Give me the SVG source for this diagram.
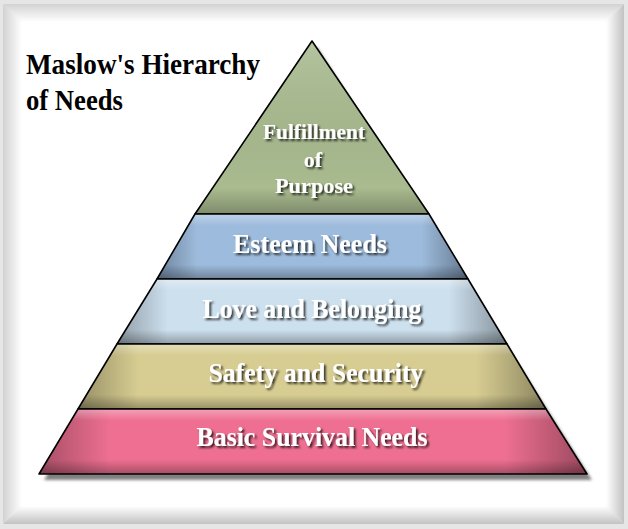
<svg xmlns="http://www.w3.org/2000/svg" width="628" height="529" viewBox="0 0 628 529">
  <defs>
    <linearGradient id="gTop" x1="0" y1="0" x2="0" y2="1">
      <stop offset="0" stop-color="#d2d2d2"/>
      <stop offset="1" stop-color="#ffffff"/>
    </linearGradient>
    <linearGradient id="gLeft" x1="0" y1="0" x2="1" y2="0">
      <stop offset="0" stop-color="#d2d2d2"/>
      <stop offset="1" stop-color="#ffffff"/>
    </linearGradient>
    <linearGradient id="gRight" x1="0" y1="0" x2="1" y2="0">
      <stop offset="0" stop-color="#ffffff"/>
      <stop offset="1" stop-color="#c2c2c2"/>
    </linearGradient>
    <linearGradient id="gBottom" x1="0" y1="0" x2="0" y2="1">
      <stop offset="0" stop-color="#ffffff"/>
      <stop offset="1" stop-color="#c2c2c2"/>
    </linearGradient>
    <linearGradient id="sideShade" x1="0" y1="0" x2="1" y2="0">
      <stop offset="0" stop-color="#000" stop-opacity="0.3"/>
      <stop offset="0.13" stop-color="#000" stop-opacity="0"/>
      <stop offset="0.85" stop-color="#000" stop-opacity="0"/>
      <stop offset="1" stop-color="#000" stop-opacity="0.35"/>
    </linearGradient>
    <linearGradient id="vertShade" x1="0" y1="0" x2="0" y2="1">
      <stop offset="0" stop-color="#fff" stop-opacity="0.35"/>
      <stop offset="0.18" stop-color="#fff" stop-opacity="0"/>
      <stop offset="0.78" stop-color="#000" stop-opacity="0"/>
      <stop offset="1" stop-color="#000" stop-opacity="0.3"/>
    </linearGradient>
    <linearGradient id="topShade" x1="0" y1="0" x2="0" y2="1">
      <stop offset="0" stop-color="#fff" stop-opacity="0.15"/>
      <stop offset="0.85" stop-color="#000" stop-opacity="0"/>
      <stop offset="1" stop-color="#000" stop-opacity="0.25"/>
    </linearGradient>
    <filter id="ts" x="-10%" y="-30%" width="120%" height="160%">
      <feDropShadow dx="2" dy="2" stdDeviation="1" flood-color="#000" flood-opacity="0.75"/>
    </filter>
    <filter id="blur" x="-10%" y="-10%" width="120%" height="120%">
      <feGaussianBlur stdDeviation="1.5"/>
    </filter>
    <polygon id="p1" points="312,41 429,214 195,214"/>
    <polygon id="p2" points="195,214 429,214 468,279 157,279"/>
    <polygon id="p3" points="157,279 468,279 507,344 117,344"/>
    <polygon id="p4" points="117,344 507,344 546,409 78,409"/>
    <polygon id="p5" points="78,409 546,409 587,474 39,474"/>
  </defs>
  <style>
    .title { font-family: "Liberation Serif", "Times New Roman", serif; font-weight: bold; font-size: 30px; fill: #000; }
    .lbl { font-family: "Liberation Serif", "Times New Roman", serif; font-weight: bold; font-size: 27px; fill: #ffffff; text-anchor: middle; filter: url(#ts); }
    .lbl-sm { font-size: 22px; }
    .edge { fill: none; stroke: #000; stroke-width: 1.6; stroke-linejoin: round; }
  </style>

  <g id="frame">
    <rect x="0" y="0" width="628" height="529" fill="#e6e6e6"/>
    <polygon points="3,4 624,4 606,22 22,22" fill="url(#gTop)"/>
    <polygon points="3,4 22,22 22,506 3,524" fill="url(#gLeft)"/>
    <polygon points="624,4 624,524 606,506 606,22" fill="url(#gRight)"/>
    <polygon points="3,524 624,524 606,506 22,506" fill="url(#gBottom)"/>
    <rect x="22" y="22" width="584" height="484" fill="#ffffff"/>
  </g>

  <g id="title">
    <text class="title" x="26" y="74" textLength="234" lengthAdjust="spacingAndGlyphs">Maslow's Hierarchy</text>
    <text class="title" x="26" y="110" textLength="97" lengthAdjust="spacingAndGlyphs">of Needs</text>
  </g>

  <g id="shadow">
    <polygon points="317,47 592,480 44,480" fill="#808080" filter="url(#blur)"/>
  </g>

  <g id="level-fulfillment">
    <use href="#p1" fill="#a9bb8f"/>
    <use href="#p1" fill="url(#topShade)"/>
    <use href="#p1" class="edge"/>
    <text class="lbl lbl-sm" x="314" y="139" textLength="102" lengthAdjust="spacingAndGlyphs">Fulfillment</text>
    <text class="lbl lbl-sm" x="313" y="167">of</text>
    <text class="lbl lbl-sm" x="314" y="193" textLength="78" lengthAdjust="spacingAndGlyphs">Purpose</text>
  </g>

  <g id="level-esteem">
    <use href="#p2" fill="#9dbbdc"/>
    <use href="#p2" fill="url(#sideShade)"/>
    <use href="#p2" fill="url(#vertShade)"/>
    <use href="#p2" class="edge"/>
    <text class="lbl" x="310" y="253" textLength="154" lengthAdjust="spacingAndGlyphs">Esteem Needs</text>
  </g>

  <g id="level-love">
    <use href="#p3" fill="#cde0ee"/>
    <use href="#p3" fill="url(#sideShade)"/>
    <use href="#p3" fill="url(#vertShade)"/>
    <use href="#p3" class="edge"/>
    <text class="lbl" x="312" y="318" textLength="219" lengthAdjust="spacingAndGlyphs">Love and Belonging</text>
  </g>

  <g id="level-safety">
    <use href="#p4" fill="#d7cd92"/>
    <use href="#p4" fill="url(#sideShade)"/>
    <use href="#p4" fill="url(#vertShade)"/>
    <use href="#p4" class="edge"/>
    <text class="lbl" x="316" y="382" textLength="215" lengthAdjust="spacingAndGlyphs">Safety and Security</text>
  </g>

  <g id="level-basic">
    <use href="#p5" fill="#ee6f91"/>
    <use href="#p5" fill="url(#sideShade)"/>
    <use href="#p5" fill="url(#vertShade)"/>
    <use href="#p5" class="edge"/>
    <text class="lbl" x="312" y="446" textLength="231" lengthAdjust="spacingAndGlyphs">Basic Survival Needs</text>
  </g>

  <g id="connectors"></g>
</svg>
